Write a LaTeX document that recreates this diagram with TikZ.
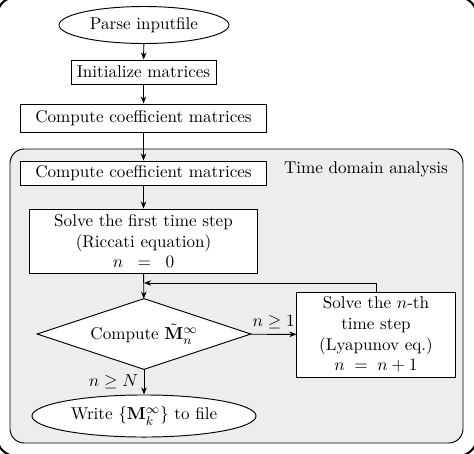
\documentclass[tikz,border=0pt]{standalone}
\usepackage{amsmath,amssymb}
\usetikzlibrary{shapes.geometric,arrows.meta}

\tikzset{
    procbox/.style={draw, semithick, fill=white, inner sep=0pt, align=center},
    termnode/.style={ellipse, draw, semithick, fill=white, inner sep=0pt},
    flow/.style={-{Stealth[length=4.5pt,width=3.5pt]}, semithick},
}

\begin{document}
\begin{tikzpicture}[x=0.6325pt, y=-0.6325pt, font=\fontsize{10.8}{13}\selectfont]
    % Page area and outer frame (only the corners show)
    \useasboundingbox (0,0) rectangle (474,453);
    \clip (0,0) rectangle (474,453);
    \draw[line width=1.3pt, rounded corners=12pt] (-3,-3) rectangle (477,456);

    % Grey panel for the time domain part
    \draw[semithick, fill=black!7, rounded corners=9pt] (10,149) rectangle (463,443);
    \node (title) at (366,169) {Time domain analysis};

    % Steps before the time loop
    \node[termnode, minimum width=107.5pt, minimum height=23.4pt] (parse) at (144,25) {Parse inputfile};
    \node[procbox, minimum width=91.7pt, minimum height=15.2pt] (init) at (143.5,72) {Initialize matrices};
    \node[procbox, minimum width=155pt, minimum height=17.7pt] (coefa) at (143.5,118) {Compute coefficient matrices};

    % Steps inside the panel
    \node[procbox, minimum width=155pt, minimum height=15.2pt] (coefb) at (143.5,173) {Compute coefficient matrices};
    \node[procbox, minimum width=144.8pt, minimum height=40.5pt] (first) at (143.5,241)
        {Solve the first time step\\(Riccati equation)\\$n\;\;=\;\;0$};
    % decision: a flat diamond drawn on the corners of a plain node
    \node[inner sep=0pt, minimum width=134.7pt, minimum height=44.3pt] (comp) at (144,334) {};
    \draw[semithick, fill=white] (comp.north) -- (comp.east) -- (comp.south) -- (comp.west) -- cycle;
    \node (comptext) at (comp.center) {Compute $\tilde{\mathbf{M}}_n^{\infty}$};
    \node[procbox, minimum width=100pt, minimum height=53.8pt] (nth) at (376,334.5)
        {Solve the $n$-th\\time step\\(Lyapunov eq.)\\$n\;=\;n+1$};
    \node[termnode, minimum width=141.7pt, minimum height=26.6pt] (write) at (144,416)
        {Write $\{\mathbf{M}_k^{\infty}\}$ to file};

    % Loop corner
    \coordinate (back) at (144,283);

    % Connectors
    \draw[flow] (parse) -- (init);
    \draw[flow] (init) -- (coefa);
    \draw[flow] (coefa) -- (coefb);
    \draw[flow] (coefb) -- (first);
    \draw[flow] (first) -- (comp);
    \draw[flow] (comp) -- node[above] {$n\geq 1$} (nth);
    \draw[flow] (nth.north) |- (back);
    \draw[flow] (comp) -- node[left] {$n\geq N$} (write);
\end{tikzpicture}
\end{document}
